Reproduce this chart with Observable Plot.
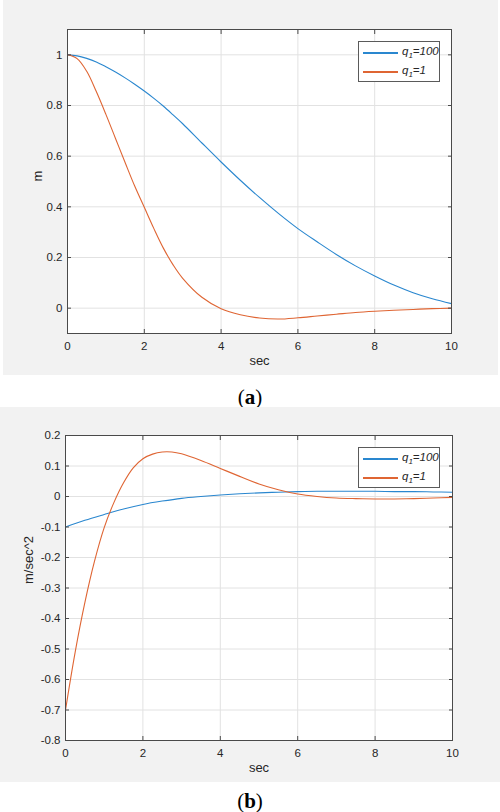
<!DOCTYPE html>
<html>
<head>
<meta charset="utf-8">
<script src="https://cdn.jsdelivr.net/npm/d3@7"></script>
<script src="https://cdn.jsdelivr.net/npm/@observablehq/plot@0.6"></script>
<style>
  body { margin: 0; background: #fff; font-family: "Liberation Sans", Arial, sans-serif; }
  #page { position: relative; width: 500px; height: 812px; }
  .panel { position: absolute; background: #f2f2f2; }
  .legend { position: absolute; width: 80px; height: 39px; background: #fff; border: 1px solid #5a5a5a; }
  .legend .row { position: absolute; left: 0; height: 16px; display: flex; align-items: center; }
  .legend .swatch { display: inline-block; width: 35px; height: 1.2px; margin-left: 4px; margin-right: 4px; }
  .legend .lab { font-style: italic; font-size: 11.5px; color: #262626; line-height: 1; }
  .legend sub { font-size: 8px; vertical-align: -3px; }
  .caption { position: absolute; left: 0; width: 500px; text-align: center; line-height: 24px;
             font-family: "Liberation Serif", "DejaVu Serif", serif; font-size: 21px; color: #000; }
</style>
</head>
<body>
<div id="page">
  <div class="panel" id="panel-a" style="left:3px;top:0;width:495px;height:375px"></div>
  <div class="caption" style="top:385px">(<b>a</b>)</div>
  <div class="panel" id="panel-b" style="left:0;top:407px;width:500px;height:375px"></div>
  <div class="caption" style="top:789px">(<b>b</b>)</div>
</div>
<script>
// series: q1=100 (azul) y q1=1 (naranja)
const seriesNames = ["100", "1"];
const seriesColors = ["#2a87cf", "#df6533"];

const timeA = [0, 0.5, 1, 1.5, 2, 2.5, 3, 3.5, 4, 4.5, 5, 5.5, 6, 6.5, 7, 7.5, 8, 8.5, 9, 9.5, 10];
const timeFine = [0, 0.25, 0.5, 0.75, 1, 1.25, 1.5, 1.75, 2, 2.25, 2.5, 2.75, 3, 3.5, 4, 4.5,
                  5, 5.5, 6, 6.5, 7, 7.5, 8, 8.5, 9, 9.5, 10];

// (a) posición, m
const posQ100 = [1, 0.996, 0.986, 0.972, 0.953, 0.932, 0.909, 0.884, 0.857, 0.828, 0.797, 0.763,
                 0.728, 0.652, 0.577, 0.505, 0.437, 0.373, 0.314, 0.262, 0.212, 0.167, 0.127,
                 0.091, 0.061, 0.037, 0.018];
const posQ1 = [1, 0.985, 0.935, 0.855, 0.765, 0.67, 0.575, 0.482, 0.398, 0.314, 0.236, 0.171,
               0.118, 0.043, -0.002, -0.026, -0.039, -0.043, -0.038, -0.031, -0.024, -0.017,
               -0.012, -0.008, -0.005, -0.002, 0];

// (b) aceleración, m/sec^2
const accQ100 = [-0.1, -0.078, -0.059, -0.041, -0.026, -0.015, -0.006, 0.0, 0.005, 0.009, 0.012,
                 0.014, 0.016, 0.017, 0.017, 0.017, 0.017, 0.016, 0.016, 0.015, 0.014];
const accQ1 = [-0.7, -0.51, -0.348, -0.212, -0.102, -0.02, 0.045, 0.094, 0.124, 0.139, 0.146,
               0.146, 0.14, 0.118, 0.092, 0.066, 0.041, 0.022, 0.008, 0.0, -0.005, -0.007, -0.008,
               -0.008, -0.007, -0.005, -0.003];

const xTicks = [0, 2, 4, 6, 8, 10];
const yTicksA = [0, 0.2, 0.4, 0.6, 0.8, 1];
const yTicksB = [0.2, 0.1, 0, -0.1, -0.2, -0.3, -0.4, -0.5, -0.6, -0.7, -0.8];

const toRows = (t, v) => t.map((x, i) => ({t: x, v: v[i]}));
const fmt = d => String(+d.toFixed(2));

function renderPanel(id, opts) {
  const panel = document.getElementById(id);
  const axisColor = "#4a4a4a";
  const inTick = 4;

  const chart = Plot.plot({
    width: opts.width,
    height: 375,
    marginTop: opts.marginTop,
    marginBottom: 42,
    marginLeft: opts.marginLeft,
    marginRight: opts.marginRight,
    style: {background: "none", fontFamily: "'Liberation Sans', Arial, sans-serif", fontSize: "11.5px", color: "#262626"},
    x: {domain: [0, 10]},
    y: {domain: opts.yDomain},
    marks: [
      Plot.frame({fill: "#fff", stroke: null}),
      Plot.gridX(xTicks, {stroke: "#e2e2e2", strokeOpacity: 1}),
      Plot.gridY(opts.yTicks, {stroke: "#e2e2e2", strokeOpacity: 1}),
      ...opts.series.map((s, i) => Plot.line(s, {
        x: "t", y: "v", stroke: seriesColors[i], strokeWidth: 1.1, curve: "catmull-rom"
      })),
      Plot.frame({stroke: axisColor, strokeWidth: 1}),
      // ticks hacia adentro en los cuatro lados
      Plot.axisX(xTicks, {anchor: "bottom", tickSize: inTick, dy: -inTick, tickFormat: () => "", label: null, stroke: axisColor}),
      Plot.axisX(xTicks, {anchor: "top", tickSize: inTick, dy: inTick, tickFormat: () => "", label: null, stroke: axisColor}),
      Plot.axisY(opts.yTicks, {anchor: "left", tickSize: inTick, dx: inTick, tickFormat: () => "", label: null, stroke: axisColor}),
      Plot.axisY(opts.yTicks, {anchor: "right", tickSize: inTick, dx: -inTick, tickFormat: () => "", label: null, stroke: axisColor}),
      // etiquetas
      Plot.axisX(xTicks, {anchor: "bottom", tickSize: 0, tickPadding: 8, tickFormat: fmt, label: null}),
      Plot.axisY(opts.yTicks, {anchor: "left", tickSize: 0, tickPadding: 5, tickFormat: fmt, label: null}),
      Plot.text(["sec"], {frameAnchor: "bottom", dy: 31, fontSize: 13, fill: "#262626"}),
      Plot.text([opts.yLabel], {frameAnchor: "left", dx: opts.yLabelDx, dy: opts.yLabelDy, rotate: -90, fontSize: 13, fill: "#262626"})
    ]
  });
  panel.appendChild(chart);

  const legend = document.createElement('div');
  legend.className = 'legend';
  legend.style.left = opts.legendLeft + 'px';
  legend.style.top = opts.legendTop + 'px';
  legend.innerHTML = seriesNames.map((n, i) => `
    <div class="row" style="top:${3 + i * 19}px">
      <span class="swatch" style="background:${seriesColors[i]}"></span>
      <span class="lab">q<sub>1</sub>=${n}</span>
    </div>
  `).join('');
  panel.appendChild(legend);
}

renderPanel('panel-a', {
  width: 495, marginTop: 29, marginLeft: 64, marginRight: 47,
  yDomain: [-0.1, 1.1], yTicks: yTicksA, yLabel: "m", yLabelDx: -30, yLabelDy: 0,
  series: [toRows(timeFine, posQ100), toRows(timeFine, posQ1)],
  legendLeft: 355, legendTop: 41
});

renderPanel('panel-b', {
  width: 500, marginTop: 28, marginLeft: 65, marginRight: 48,
  yDomain: [-0.8, 0.2], yTicks: yTicksB, yLabel: "m/sec^2", yLabelDx: -37, yLabelDy: -4,
  series: [toRows(timeA, accQ100), toRows(timeFine, accQ1)],
  legendLeft: 358, legendTop: 40
});
</script>
</body>
</html>
